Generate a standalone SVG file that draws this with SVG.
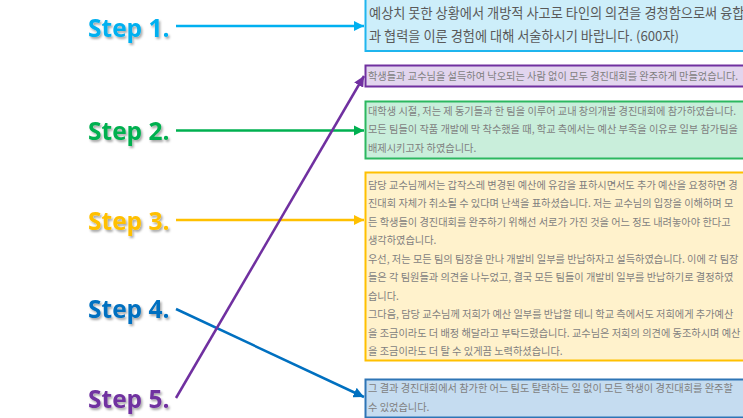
<svg xmlns="http://www.w3.org/2000/svg" width="743" height="418" viewBox="0 0 743 418">
<defs>
<style>
.step{font-family:"Open Sans","Noto Sans",sans-serif;font-weight:bold;font-size:24.5px;}
.t1{font-family:"Noto Sans CJK KR","Noto Sans",sans-serif;font-size:13.2px;fill:#595959;}
.t{font-family:"Noto Sans CJK KR","Noto Sans",sans-serif;font-size:10.2px;fill:#7f7f7f;}
.conn line{stroke-width:2.5;fill:none;}
</style>
<filter id="sh" x="-10%" y="-20%" width="130%" height="150%">
<feDropShadow dx="1.5" dy="2" stdDeviation="1.2" flood-color="#000" flood-opacity="0.35"/>
</filter>
<marker id="aC" viewBox="0 0 10 10" refX="10" refY="5" markerWidth="4.2" markerHeight="4.2" orient="auto" markerUnits="strokeWidth"><path d="M0,0L10,5L0,10z" fill="#00b0f0"/></marker>
<marker id="aG" viewBox="0 0 10 10" refX="10" refY="5" markerWidth="4.2" markerHeight="4.2" orient="auto" markerUnits="strokeWidth"><path d="M0,0L10,5L0,10z" fill="#00b050"/></marker>
<marker id="aY" viewBox="0 0 10 10" refX="10" refY="5" markerWidth="4.2" markerHeight="4.2" orient="auto" markerUnits="strokeWidth"><path d="M0,0L10,5L0,10z" fill="#ffc000"/></marker>
<marker id="aB" viewBox="0 0 10 10" refX="10" refY="5" markerWidth="4.2" markerHeight="4.2" orient="auto" markerUnits="strokeWidth"><path d="M0,0L10,5L0,10z" fill="#0070c0"/></marker>
<marker id="aP" viewBox="0 0 10 10" refX="10" refY="5" markerWidth="4.2" markerHeight="4.2" orient="auto" markerUnits="strokeWidth"><path d="M0,0L10,5L0,10z" fill="#7030a0"/></marker>
</defs>
<rect width="743" height="418" fill="#ffffff"/>

<g id="step1"><text class="step" x="88" y="37" fill="#00b0f0" filter="url(#sh)">Step 1.</text></g>
<g id="step2"><text class="step" x="88" y="140" fill="#00b050" filter="url(#sh)">Step 2.</text></g>
<g id="step3"><text class="step" x="88" y="230" fill="#ffc000" filter="url(#sh)">Step 3.</text></g>
<g id="step4"><text class="step" x="88" y="318" fill="#0070c0" filter="url(#sh)">Step 4.</text></g>
<g id="step5"><text class="step" x="88" y="408" fill="#7030a0" filter="url(#sh)">Step 5.</text></g>

<g id="box1">
<rect x="365.5" y="-2" width="390" height="53" fill="#cdeefa" stroke="#1fb5ee" stroke-width="2"/>
<text class="t1" x="369" y="18">예상치 못한 상황에서 개방적 사고로 타인의 의견을 경청함으로써 융합</text>
<text class="t1" x="369" y="41">과 협력을 이룬 경험에 대해 서술하시기 바랍니다. (600자)</text>
</g>
<g id="box2">
<rect x="365.5" y="65.5" width="390" height="21" fill="#e2d5ee" stroke="#7030a0" stroke-width="2"/>
<text class="t" x="368" y="80">학생들과 교수님을 설득하여 낙오되는 사람 없이 모두 경진대회를 완주하게 만들었습니다.</text>
</g>
<g id="box3">
<rect x="365.5" y="101.5" width="390" height="57" fill="#c9eedb" stroke="#2cb860" stroke-width="2"/>
<text class="t" x="368" y="114.5">대학생 시절, 저는 제 동기들과 한 팀을 이루어 교내 창의개발 경진대회에 참가하였습니다.</text>
<text class="t" x="368" y="133">모든 팀들이 작품 개발에 막 착수했을 때, 학교 측에서는 예산 부족을 이유로 일부 참가팀을</text>
<text class="t" x="368" y="151.5">배제시키고자 하였습니다.</text>
</g>
<g id="box4">
<rect x="365.5" y="172.5" width="390" height="188" fill="#fff2cc" stroke="#ffc000" stroke-width="2"/>
<text class="t" x="368" y="188.5">담당 교수님께서는 갑작스레 변경된 예산에 유감을 표하시면서도 추가 예산을 요청하면 경</text>
<text class="t" x="368" y="207">진대회 자체가 취소될 수 있다며 난색을 표하셨습니다. 저는 교수님의 입장을 이해하며 모</text>
<text class="t" x="368" y="225.5">든 학생들이 경진대회를 완주하기 위해선 서로가 가진 것을 어느 정도 내려놓아야 한다고</text>
<text class="t" x="368" y="244">생각하였습니다.</text>
<text class="t" x="368" y="262.5">우선, 저는 모든 팀의 팀장을 만나 개발비 일부를 반납하자고 설득하였습니다. 이에 각 팀장</text>
<text class="t" x="368" y="281">들은 각 팀원들과 의견을 나누었고, 결국 모든 팀들이 개발비 일부를 반납하기로 결정하였</text>
<text class="t" x="368" y="299.5">습니다.</text>
<text class="t" x="368" y="318">그다음, 담당 교수님께 저희가 예산 일부를 반납할 테니 학교 측에서도 저희에게 추가예산</text>
<text class="t" x="368" y="336.5">을 조금이라도 더 배정 해달라고 부탁드렸습니다. 교수님은 저희의 의견에 동조하시며 예산</text>
<text class="t" x="368" y="355">을 조금이라도 더 탈 수 있게끔 노력하셨습니다.</text>
</g>
<g id="box5">
<rect x="365.5" y="379.5" width="390" height="38" fill="#c5dcf0" stroke="#2e75b6" stroke-width="2"/>
<text class="t" x="368" y="391.5">그 결과 경진대회에서 참가한 어느 팀도 탈락하는 일 없이 모든 학생이 경진대회를 완주할</text>
<text class="t" x="368" y="411">수 있었습니다.</text>
</g>

<g id="connectors" class="conn">
<line x1="176" y1="26" x2="364" y2="26" stroke="#00b0f0" marker-end="url(#aC)"/>
<line x1="176" y1="130.5" x2="364" y2="130.5" stroke="#00b050" marker-end="url(#aG)"/>
<line x1="176" y1="220" x2="364" y2="220" stroke="#ffc000" marker-end="url(#aY)"/>
<line x1="176" y1="309" x2="364" y2="397" stroke="#0070c0" marker-end="url(#aB)"/>
<line x1="176" y1="398" x2="364" y2="76" stroke="#7030a0" marker-end="url(#aP)"/>
</g>
</svg>
